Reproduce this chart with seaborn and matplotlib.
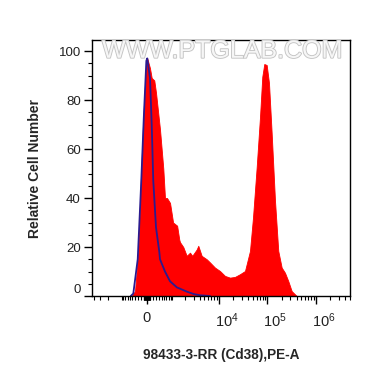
import matplotlib
matplotlib.use('Agg')
import matplotlib.pyplot as plt
import matplotlib.ticker as mticker
import matplotlib.transforms as mtransforms
import matplotlib.patheffects as pe
import seaborn as sns

red_x = [-522, -397, -280, -200, -117, -41, 9, 94, 149, 233, 291, 434, 564, 635,
         726, 875, 1044, 1302, 1458, 1512, 1790, 2123, 2499, 2796, 3463, 3741,
         4406, 5604, 6555, 8320, 10560, 13390, 16980, 21520, 27290, 34600,
         43890, 50620, 60320, 70580, 78700, 86550, 97000, 108200, 123000,
         143900, 168200, 197800, 231200, 270500, 317900, 403200]
red_y = [0, 2, 18, 46, 73, 92, 97, 93, 89, 88, 83, 68, 52, 40,
         40, 38, 30, 28.7, 23, 22, 20, 16.4, 17.7, 16.4, 19, 20.5,
         16.4, 15, 13.7, 11.6, 10.2, 8.2, 7.5, 7.8, 8.9, 10.2,
         18.4, 32, 52.6, 73, 89.5, 94.7, 94.3, 87, 66.4,
         39, 18.4, 11.6, 9.5, 6.1, 2, 0]

blue_x = [-560, -460, -300, -185, -100, -20, 9, 94, 149, 200, 291, 408, 434,
          635, 875, 1290, 1512, 2123, 3000, 4060, 6555]
blue_y = [0, 1, 15, 46, 73, 96, 97, 89, 70, 47, 28, 18, 15,
          10, 6, 3.5, 3, 1.8, 0.8, 0.3, 0]

xtick_vals = [0, 1e4, 1e5, 1e6]
xtick_labels = ['0', '$10^4$', '$10^5$', '$10^6$']
ytick_vals = [0, 20, 40, 60, 80, 100]

sns.set_style('ticks')
plt.rcParams['font.family'] = ['Liberation Sans', 'DejaVu Sans']
plt.rcParams['mathtext.fontset'] = 'custom'
plt.rcParams['mathtext.rm'] = 'Liberation Sans'
plt.rcParams['mathtext.it'] = 'Liberation Sans'
plt.rcParams['mathtext.bf'] = 'Liberation Sans:bold'

fig = plt.figure(figsize=(3.7, 3.67), dpi=100)
ax = fig.add_axes([92 / 370, 1 - 296 / 367, 258 / 370, 256 / 367])

ax.fill_between(red_x, red_y, facecolor='#ff0000', edgecolor='#ff0000', lw=0.6)
sns.lineplot(x=blue_x, y=blue_y, color='#2b1b8f', lw=1.3, ax=ax, sort=False, estimator=None)

ax.set_xscale('asinh', linear_width=660)
ax.set_xlim(-4470, 5.07e6)
ax.set_ylim(0, 104.5)

# ticks eje X
minor_x = []
for n in range(1, 4):
    for k in range(1, 10):
        if k * 10 ** n <= 4400:
            minor_x.append(-k * 10 ** n)
for n in range(1, 7):
    for k in range(1, 10):
        minor_x.append(k * 10 ** n)
ax.xaxis.set_major_locator(mticker.FixedLocator(xtick_vals))
ax.xaxis.set_major_formatter(mticker.FixedFormatter(xtick_labels))
ax.xaxis.set_minor_locator(mticker.FixedLocator(minor_x))
ax.xaxis.set_minor_formatter(mticker.NullFormatter())

ax.yaxis.set_major_locator(mticker.FixedLocator(ytick_vals))
ax.yaxis.set_minor_locator(mticker.MultipleLocator(5))

ax.tick_params(axis='both', which='major', length=6, width=1, color='black',
               labelcolor='#222222')
ax.tick_params(axis='both', which='minor', length=3, width=0.8, color='black')
ax.tick_params(axis='x', labelsize=10.5, pad=5)
ax.tick_params(axis='y', labelsize=9.5, pad=2)

for s in ax.spines.values():
    s.set_visible(True)
    s.set_color('black')
    s.set_linewidth(1)

# etiquetas de potencias alineadas a la izquierda del tick
fig.canvas.draw()
shift = mtransforms.ScaledTranslation(-3 / 72, 0, fig.dpi_scale_trans)
for lab in ax.get_xticklabels()[1:]:
    lab.set_horizontalalignment('left')
    lab.set_transform(lab.get_transform() + shift)
ax.get_yticklabels()[0].set_verticalalignment('bottom')

ax.set_xlabel('98433-3-RR (Cd38),PE-A', fontsize=9.8, fontweight='bold', labelpad=13)
ax.set_ylabel('Relative Cell Number', fontsize=10, fontweight='bold', labelpad=12)

ax.text(0.504, 0.958, 'WWW.PTGLAB.COM', transform=ax.transAxes, ha='center',
        va='center', fontsize=18, color='#f6f6f6',
        path_effects=[pe.withStroke(linewidth=1.3, foreground='#c4c4c4')])

fig.savefig('out.png', dpi=100)
